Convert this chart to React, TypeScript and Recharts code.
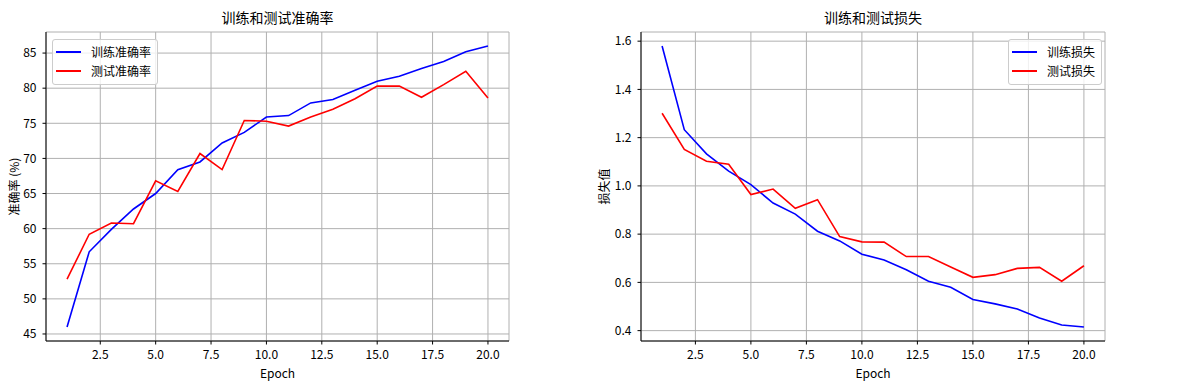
import React from 'react';
import { LineChart, Line, XAxis, YAxis, CartesianGrid, Legend } from 'recharts';

const epochs = [1, 2, 3, 4, 5, 6, 7, 8, 9, 10, 11, 12, 13, 14, 15, 16, 17, 18, 19, 20];
const trainAcc = [46.0, 56.7, 59.9, 62.8, 65.0, 68.4, 69.5, 72.2, 73.7, 75.9, 76.1, 77.9, 78.4, 79.7, 81.0, 81.7, 82.8, 83.8, 85.2, 86.0];
const testAcc = [52.8, 59.2, 60.8, 60.7, 66.8, 65.3, 70.7, 68.4, 75.4, 75.3, 74.6, 75.9, 77.0, 78.5, 80.3, 80.3, 78.7, 80.5, 82.4, 78.6];
const trainLoss = [1.58, 1.233, 1.133, 1.061, 1.005, 0.929, 0.883, 0.812, 0.772, 0.717, 0.693, 0.652, 0.605, 0.58, 0.529, 0.511, 0.49, 0.452, 0.423, 0.415];
const testLoss = [1.301, 1.151, 1.102, 1.09, 0.964, 0.987, 0.907, 0.943, 0.79, 0.768, 0.767, 0.707, 0.707, 0.664, 0.621, 0.632, 0.658, 0.662, 0.605, 0.669];
const epochTicks = [2.5, 5.0, 7.5, 10.0, 12.5, 15.0, 17.5, 20.0];
const accTicks = [45, 50, 55, 60, 65, 70, 75, 80, 85];
const lossTicks = [0.4, 0.6, 0.8, 1.0, 1.2, 1.4, 1.6];
const seriesOrder = ['train', 'test'];

const FONT = '"Noto Sans CJK SC", "Noto Sans", sans-serif';

const accData = epochs.map((e, i) => ({ epoch: e, train: trainAcc[i], test: testAcc[i] }));
const lossData = epochs.map((e, i) => ({ epoch: e, train: trainLoss[i], test: testLoss[i] }));

const LegendBox = (props: any) => {
  const payload = [...(props.payload || [])].sort(
    (a: any, b: any) => seriesOrder.indexOf(a.dataKey) - seriesOrder.indexOf(b.dataKey)
  );
  return (
    <div
      style={{
        border: '1px solid #cccccc',
        borderRadius: 3,
        background: 'rgba(255,255,255,0.8)',
        padding: '2px 6px 4px 3px',
        fontFamily: FONT,
        fontSize: 12,
        color: '#000',
      }}
    >
      {payload.map((p: any) => (
        <div key={p.value} style={{ display: 'flex', alignItems: 'center', height: 19 }}>
          <svg width={25} height={4} style={{ marginRight: 10 }}>
            <line x1={0} y1={2} x2={25} y2={2} stroke={p.color} strokeWidth={2} />
          </svg>
          <span>{p.value}</span>
        </div>
      ))}
    </div>
  );
};

const yLabel = (text: string, dx: number) => (props: any) => {
  const vb = props.viewBox || {};
  const cx = vb.x + dx;
  const cy = vb.y + vb.height / 2;
  return (
    <text
      x={cx}
      y={cy}
      transform={`rotate(-90 ${cx} ${cy})`}
      textAnchor="middle"
      dominantBaseline="central"
      fontFamily={FONT}
      fontSize={12}
      fill="#000"
    >
      {text}
    </text>
  );
};

const tickStyle = { fontFamily: FONT, fontSize: 12, fill: '#000' };

type PanelProps = {
  data: any[];
  title: string;
  ylabel: string;
  yTicks: number[];
  yDomain: [number, number];
  yFmt: (v: number) => string;
  trainName: string;
  testName: string;
  width: number;
  marginRight: number;
  legendLeft: number;
  labelDx: number;
};

const Panel = (p: PanelProps) => {
  const plotLeft = 46;
  const plotRight = p.width - p.marginRight;
  return (
    <div style={{ position: 'relative', width: p.width, height: 390 }}>
      <div
        style={{
          position: 'absolute',
          left: plotLeft,
          width: plotRight - plotLeft,
          top: 7,
          textAlign: 'center',
          fontFamily: FONT,
          fontSize: 14,
          color: '#000',
          lineHeight: '20px',
        }}
      >
        {p.title}
      </div>
      <LineChart
        width={p.width}
        height={390}
        data={p.data}
        margin={{ top: 32, right: p.marginRight, bottom: 0, left: 0 }}
      >
        <CartesianGrid stroke="#b0b0b0" strokeWidth={1} />
        <XAxis
          dataKey="epoch"
          type="number"
          domain={[0.05, 20.95]}
          ticks={epochTicks}
          tickFormatter={(v: number) => v.toFixed(1)}
          tick={tickStyle}
          tickSize={3.5}
          tickMargin={6}
          height={49}
          stroke="#000"
          label={{ value: 'Epoch', position: 'insideBottom', offset: 12, style: { fontFamily: FONT, fontSize: 12, fill: '#000' } }}
        />
        <XAxis xAxisId="top" orientation="top" type="number" domain={[0.05, 20.95]} tick={false} tickLine={false} height={0} stroke="#000" />
        <YAxis
          type="number"
          domain={p.yDomain}
          ticks={p.yTicks}
          tickFormatter={p.yFmt}
          tick={tickStyle}
          tickSize={3.5}
          tickMargin={6}
          width={46}
          stroke="#000"
          allowDataOverflow
          label={yLabel(p.ylabel, p.labelDx)}
        />
        <YAxis yAxisId="right" orientation="right" type="number" domain={p.yDomain} tick={false} tickLine={false} width={0} stroke="#000" />
        <Legend
          layout="vertical"
          align="center"
          verticalAlign="middle"
          content={<LegendBox />}
          wrapperStyle={{ left: p.legendLeft, top: 39, width: 'auto', height: 'auto' }}
        />
        <Line type="linear" dataKey="train" name={p.trainName} stroke="#0000ff" strokeWidth={1.6} dot={false} isAnimationActive={false} />
        <Line type="linear" dataKey="test" name={p.testName} stroke="#ff0000" strokeWidth={1.6} dot={false} isAnimationActive={false} />
      </LineChart>
    </div>
  );
};

export default function App() {
  return (
    <div style={{ position: 'absolute', left: 0, top: 0, width: 1189, height: 390, background: '#fff', display: 'flex' }}>
      <Panel
        data={accData}
        title="训练和测试准确率"
        ylabel="准确率 (%)"
        yTicks={accTicks}
        yDomain={[44, 88]}
        yFmt={(v: number) => String(v)}
        trainName="训练准确率"
        testName="测试准确率"
        width={595}
        marginRight={86}
        legendLeft={52}
        labelDx={13}
      />
      <Panel
        data={lossData}
        title="训练和测试损失"
        ylabel="损失值"
        yTicks={lossTicks}
        yDomain={[0.357, 1.638]}
        yFmt={(v: number) => v.toFixed(1)}
        trainName="训练损失"
        testName="测试损失"
        width={594}
        marginRight={84}
        legendLeft={413}
        labelDx={8}
      />
    </div>
  );
}
